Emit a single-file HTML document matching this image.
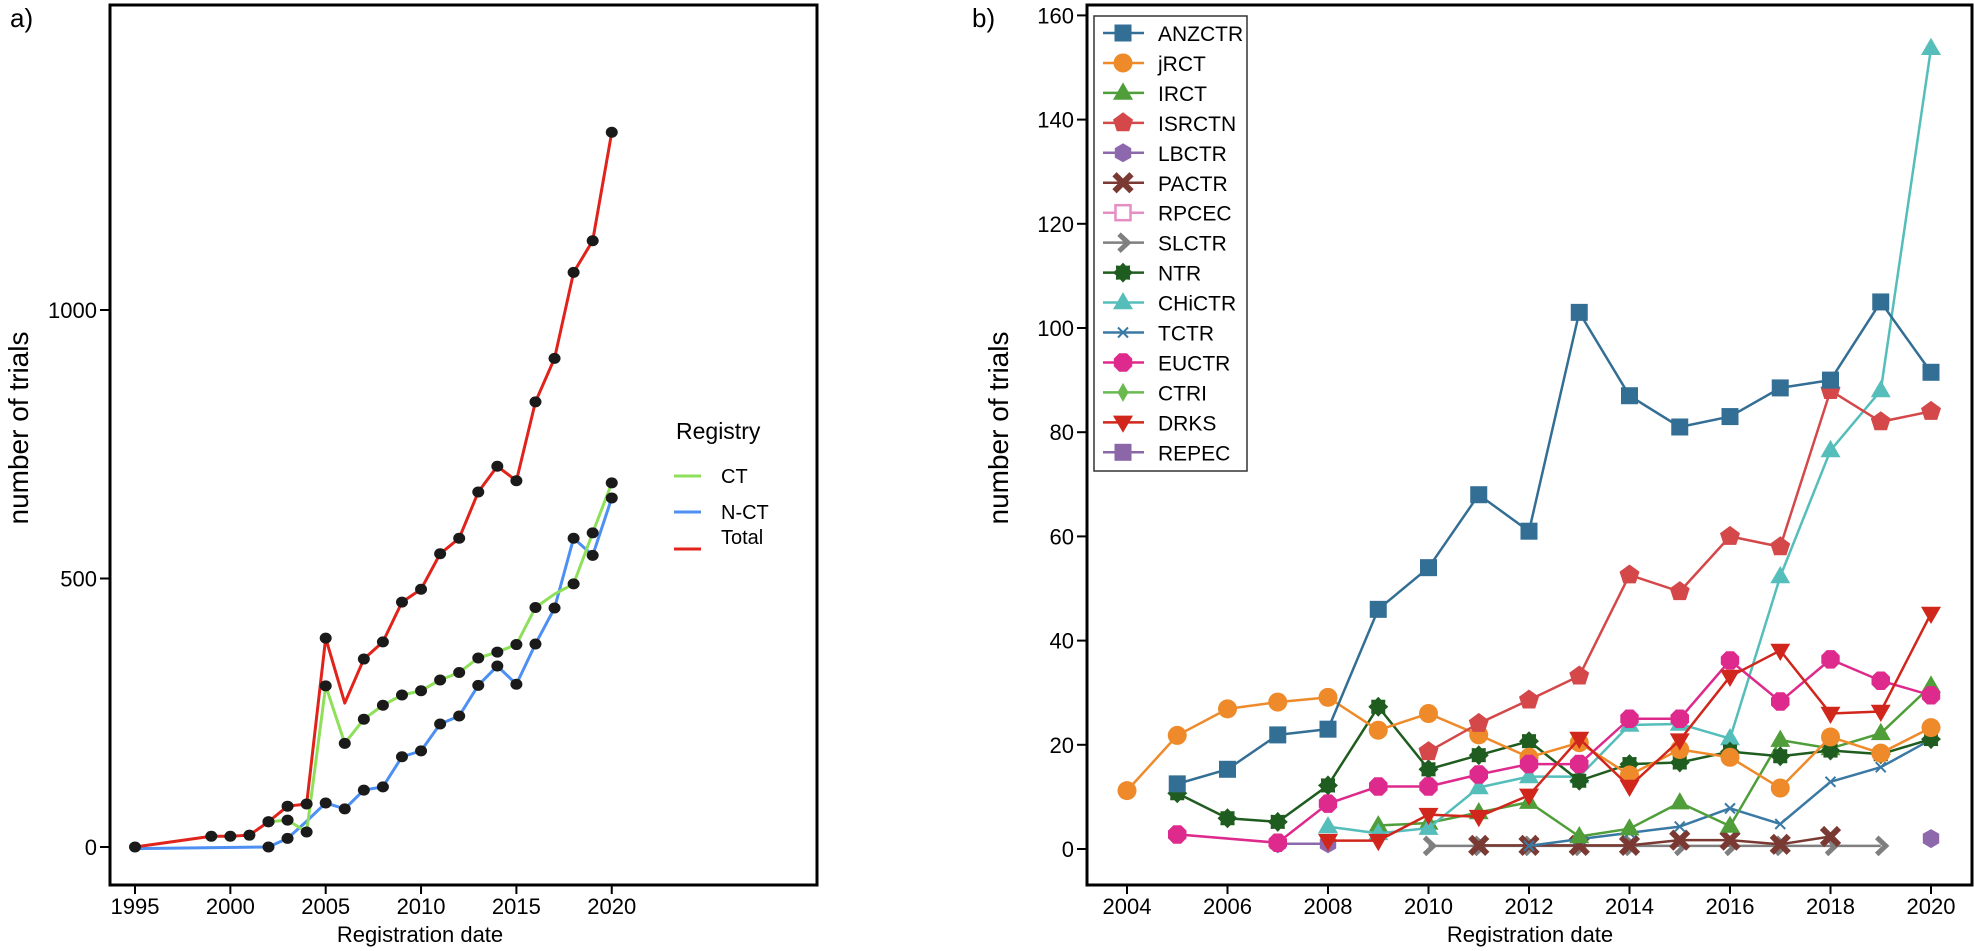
<!DOCTYPE html>
<html><head><meta charset="utf-8">
<style>
html,body{margin:0;padding:0;background:#fff;}
svg{display:block;font-family:"Liberation Sans",Arial,sans-serif;}
</style></head>
<body>
<svg id="fig" width="1975" height="951" viewBox="0 0 1975 951" xmlns="http://www.w3.org/2000/svg">
<text x="10" y="27" font-size="26">a)</text>
<text x="972" y="27" font-size="26">b)</text>
<g id="pa"></g>
<g id="pb"></g>
</svg>
<script>
// ---------- Panel A data ----------
const aYears = [1995,1999,2000,2001,2002,2003,2004,2005,2006,2007,2008,2009,2010,2011,2012,2013,2014,2015,2016,2017,2018,2019,2020];
const aTotal = [0,20,20,22,47,76,80,389,268,350,382,456,480,546,575,661,709,682,829,910,1070,1129,1331];
const aTotalDots = [1,1,1,1,1,1,1,1,0,1,1,1,1,1,1,1,1,1,1,1,1,1,1];
const aCTYears = [2002,2003,2004,2005,2006,2007,2008,2009,2010,2011,2012,2013,2014,2015,2016,2017,2018,2019,2020];
const aCT = [47,50,28,300,193,238,264,283,291,311,325,352,363,377,446,471,490,585,678];
const aCTDots = [1,1,1,1,1,1,1,1,1,1,1,1,1,1,1,0,1,1,1];
const aNCTYears = [1995,2002,2003,2004,2005,2006,2007,2008,2009,2010,2011,2012,2013,2014,2015,2016,2017,2018,2019,2020];
const aNCT = [-3,0,16,48,82,71,106,112,168,179,229,244,301,337,303,378,445,575,543,650];
const aNCTDots = [0,1,1,0,1,1,1,1,1,1,1,1,1,1,1,1,1,1,1,1];
const aXTicks = [1995,2000,2005,2010,2015,2020];
const aYTicks = [0,500,1000];

// ---------- Panel B data ----------
const bXTicks = [2004,2006,2008,2010,2012,2014,2016,2018,2020];
const bYTicks = [0,20,40,60,80,100,120,140,160];
const anzctrY = [2005,2006,2007,2008,2009,2010,2011,2012,2013,2014,2015,2016,2017,2018,2019,2020];
const anzctrV = [12.5,15.3,21.9,23,46,54,68,61,103,87,81,83,88.5,90,105,91.5];
const jrctY = [2004,2005,2006,2007,2008,2009,2010,2011,2012,2013,2014,2015,2016,2017,2018,2019,2020];
const jrctV = [11.2,21.8,26.9,28.2,29.1,22.8,26,21.9,17.6,20.4,14.2,19.1,17.6,11.7,21.5,18.4,23.3];
const irctY = [2009,2010,2011,2012,2013,2014,2015,2016,2017,2018,2019,2020];
const irctV = [4.5,5,7,9,2.4,3.9,8.9,4.4,20.9,19.3,22.2,31.3];
const isrctnY = [2010,2011,2012,2013,2014,2015,2016,2017,2018,2019,2020];
const isrctnV = [18.7,24.1,28.6,33.2,52.6,49.4,60,58,88,82,84];
const lbctrY = [2007,2008];
const lbctrV = [1,1];
const lbctrY2 = [2020];
const lbctrV2 = [2];
const pactrY = [2011,2012,2013,2014,2015,2016,2017,2018];
const pactrV = [0.7,0.7,0.7,0.7,1.7,1.7,0.9,2.4];
const slctrY = [2010,2011,2012,2013,2014,2015,2016,2017,2018,2019];
const slctrV = [0.6,0.6,0.6,0.6,0.6,0.6,0.6,0.6,0.6,0.6];
const ntrY = [2005,2006,2007,2008,2009,2010,2011,2012,2013,2014,2015,2016,2017,2018,2019,2020];
const ntrV = [10.7,5.9,5.2,12.2,27.3,15.3,18,20.7,13.1,16.3,16.6,18.7,17.8,18.9,18.2,21.1];
const chictrY = [2008,2009,2010,2011,2012,2013,2014,2015,2016,2017,2018,2019,2020];
const chictrV = [4.3,3,4,11.8,13.9,13.9,23.8,24,21.2,52.3,76.5,88,153.7];
const tctrY = [2012,2013,2014,2015,2016,2017,2018,2019,2020];
const tctrV = [0.6,1.9,3.1,4.3,7.8,4.8,12.9,15.7,21];
const euctrY = [2005,2007,2008,2009,2010,2011,2012,2013,2014,2015,2016,2017,2018,2019,2020];
const euctrV = [2.8,1.2,8.7,12,12,14.3,16.3,16.3,25,25,36.2,28.3,36.4,32.3,29.5];
const drksY = [2008,2009,2010,2011,2012,2013,2014,2015,2016,2017,2018,2019,2020];
const drksV = [1.6,1.6,6.6,6.2,10.3,21.2,12,20.9,33.1,38.1,26,26.4,45.2];

const NS="http://www.w3.org/2000/svg";
function mk(tag, attrs, parent){const e=document.createElementNS(NS,tag);for(const k in attrs)e.setAttribute(k,attrs[k]);parent.appendChild(e);return e;}

// ---------- Panel A ----------
const pa=document.getElementById('pa');
const aL=110,aR=817,aT=5,aB=885;
function ax(y){return 135+(y-1995)*19.07;}
function ay(v){return 847-0.537*v;}
const aFrame=mk('rect',{x:aL,y:aT,width:aR-aL,height:aB-aT,fill:'none',stroke:'#000','stroke-width':3},pa);


aXTicks.forEach(t=>{
  const l=mk('line',{x1:ax(t),x2:ax(t),y1:aB,y2:aB+9,stroke:'#000','stroke-width':2},pa);
  
  
  const tx=mk('text',{x:ax(t),y:914,'font-size':22,'text-anchor':'middle'},pa);tx.textContent=t;
  
  
});
aYTicks.forEach(t=>{
  const l=mk('line',{x1:aL-10,x2:aL,y1:ay(t),y2:ay(t),stroke:'#000','stroke-width':2},pa);
  
  
  const tx=mk('text',{x:aL-13,y:ay(t)+8,'font-size':22,'text-anchor':'end'},pa);tx.textContent=t;
  
  
});
let t1=mk('text',{x:420,y:942,'font-size':22,'text-anchor':'middle'},pa);t1.textContent='Registration date';


let t2=mk('text',{x:0,y:0,'font-size':28,'text-anchor':'middle',transform:'translate(28,428) rotate(-90)'},pa);t2.textContent='number of trials';


function aSeries(years,vals,dots,color,name){
  const p=mk('polyline',{points:years.map((y,i)=>ax(y)+','+ay(vals[i])).join(' '),fill:'none',stroke:color,'stroke-width':3,'stroke-linejoin':'round'},pa);
  
  
  return p;
}
function aDots(years,vals,dots,name){
  years.forEach((y,i)=>{ if(!dots[i])return;
    const c=mk('ellipse',{cx:ax(y),cy:ay(vals[i]),rx:6,ry:5.5,fill:'#1a1a1a'},pa);
    
    
  });
}
aSeries(aNCTYears,aNCT,aNCTDots,'#4d8ff2','n-ct');
aSeries(aCTYears,aCT,aCTDots,'#8ee05a','ct');
aSeries(aYears,aTotal,aTotalDots,'#e0231b','total');
aDots(aNCTYears,aNCT,aNCTDots,'n-ct');
aDots(aCTYears,aCT,aCTDots,'ct');
aDots(aYears,aTotal,aTotalDots,'total');
// legend a
const lgA=mk('g',{},pa);


let lt=mk('text',{x:676,y:439,'font-size':23},lgA);lt.textContent='Registry';


[['CT','#8ee05a',476],['N-CT','#4d8ff2',512],['Total','#e0231b',549]].forEach(([n,c,y])=>{
  const g=mk('g',{},lgA);
  
  
  mk('line',{x1:674,x2:701,y1:y,y2:y,stroke:c,'stroke-width':3},g);
  const t=mk('text',{x:721,y:y-(n==='Total'?5:-7),'font-size':20},g);t.textContent=n;
});

// ---------- Panel B ----------
const pb=document.getElementById('pb');
const bL=1087,bR=1972,bT=5,bB=885;
function bx(y){return 1127+(y-2004)*50.25;}
function by(v){return 849-5.21*v;}
const bFrame=mk('rect',{x:bL,y:bT,width:bR-bL,height:bB-bT,fill:'none',stroke:'#000','stroke-width':3},pb);


bXTicks.forEach(t=>{
  const l=mk('line',{x1:bx(t),x2:bx(t),y1:bB,y2:bB+9,stroke:'#000','stroke-width':2},pb);
  
  
  const tx=mk('text',{x:bx(t),y:914,'font-size':22,'text-anchor':'middle'},pb);tx.textContent=t;
  
  
});
bYTicks.forEach(t=>{
  const l=mk('line',{x1:bL-10,x2:bL,y1:by(t),y2:by(t),stroke:'#000','stroke-width':2},pb);
  
  
  const tx=mk('text',{x:bL-13,y:by(t)+8,'font-size':22,'text-anchor':'end'},pb);tx.textContent=t;
  
  
});
let t3=mk('text',{x:1530,y:942,'font-size':22,'text-anchor':'middle'},pb);t3.textContent='Registration date';


let t4=mk('text',{x:0,y:0,'font-size':28,'text-anchor':'middle',transform:'translate(1008,428) rotate(-90)'},pb);t4.textContent='number of trials';



function poly(cx,cy,n,r,rot){let p=[];for(let i=0;i<n;i++){const a=rot+i*2*Math.PI/n;p.push((cx+r*Math.cos(a)).toFixed(1)+','+(cy+r*Math.sin(a)).toFixed(1));}return p.join(' ');}
function marker(shape,cx,cy,color,g){
  const S=8.5;
  switch(shape){
    case 's': return mk('rect',{x:cx-S,y:cy-S,width:2*S,height:2*S,fill:color},g);
    case 'o': return mk('circle',{cx:cx,cy:cy,r:S+1,fill:color},g);
    case '^': return mk('polygon',{points:poly(cx,cy+1,3,S+3,-Math.PI/2),fill:color},g);
    case 'v': return mk('polygon',{points:poly(cx,cy-1,3,S+3,Math.PI/2),fill:color},g);
    case 'p': return mk('polygon',{points:poly(cx,cy,5,S+2,-Math.PI/2),fill:color},g);
    case 'h': return mk('polygon',{points:poly(cx,cy,6,S+1,-Math.PI/2),fill:color},g);
    case '8': return mk('polygon',{points:poly(cx,cy,8,S+1.5,Math.PI/8),fill:color},g);
    case '*': {let p=[];for(let i=0;i<16;i++){const a=i*Math.PI/8;const r=i%2?S-1:S+1.5;p.push((cx+r*Math.cos(a)).toFixed(1)+','+(cy+r*Math.sin(a)).toFixed(1));}return mk('polygon',{points:p.join(' '),fill:color},g);}
    case 'X': return mk('path',{d:`M${cx-S} ${cy-S}L${cx+S} ${cy+S}M${cx+S} ${cy-S}L${cx-S} ${cy+S}`,stroke:color,'stroke-width':6},g);
    case 'x': return mk('path',{d:`M${cx-5} ${cy-5}L${cx+5} ${cy+5}M${cx+5} ${cy-5}L${cx-5} ${cy+5}`,stroke:color,'stroke-width':2},g);
    case '>': return mk('path',{d:`M${cx-4} ${cy-S}L${cx+5} ${cy}L${cx-4} ${cy+S}`,stroke:color,'stroke-width':5,fill:'none'},g);
    case 'd': return mk('polygon',{points:`${cx},${cy-S-1} ${cx+5.5},${cy} ${cx},${cy+S+1} ${cx-5.5},${cy}`,fill:color},g);
    case 'S': return mk('rect',{x:cx-S+1,y:cy-S+1,width:2*S-2,height:2*S-2,fill:'#fff',stroke:color,'stroke-width':2.5},g);
  }
}
function bSeries(years,vals,shape,color,name){
  const g=mk('g',{},pb);
  
  
  if(years.length>1){
    const p=mk('polyline',{points:years.map((y,i)=>bx(y)+','+by(vals[i])).join(' '),fill:'none',stroke:color,'stroke-width':2.5,'stroke-linejoin':'round'},g);
    
    
  }
  years.forEach((y,i)=>{
    const m=marker(shape,bx(y),by(vals[i]),color,g);
    
    
  });
}
bSeries(lbctrY,lbctrV,'h','#8e68ad','lbctr');
bSeries(lbctrY2,lbctrV2,'h','#8e68ad','lbctr');
bSeries(slctrY,slctrV,'>','#7f7f7f','slctr');
bSeries(pactrY,pactrV,'X','#7a3a33','pactr');
bSeries(tctrY,tctrV,'x','#3a79a3','tctr');
bSeries(irctY,irctV,'^','#4f9e3a','irct');
bSeries(chictrY,chictrV,'^','#55bdba','chictr');
bSeries(ntrY,ntrV,'*','#1f5c1f','ntr');
bSeries(jrctY,jrctV,'o','#ee8a2a','jrct');
bSeries(euctrY,euctrV,'8','#dd2a8c','euctr');
bSeries(drksY,drksV,'v','#d0261c','drks');
bSeries(isrctnY,isrctnV,'p','#d4484a','isrctn');
bSeries(anzctrY,anzctrV,'s','#336e94','anzctr');

// legend b
const lgB=mk('g',{},pb);


mk('rect',{x:1094,y:16,width:153,height:455,fill:'#fff',stroke:'#333','stroke-width':1.5},lgB);
const legNames=['ANZCTR','jRCT','IRCT','ISRCTN','LBCTR','PACTR','RPCEC','SLCTR','NTR','CHiCTR','TCTR','EUCTR','CTRI','DRKS','REPEC'];
const legShapes=['s','o','^','p','h','X','S','>','*','^','x','8','d','v','s'];
const legColors=['#336e94','#ee8a2a','#4f9e3a','#d4484a','#8e68ad','#7a3a33','#e68ec4','#7f7f7f','#1f5c1f','#55bdba','#3a79a3','#dd2a8c','#6ab94f','#d0261c','#8c67a8'];
legNames.forEach((n,i)=>{
  const y=33+i*29.95;
  const g=mk('g',{},lgB);
  
  
  mk('line',{x1:1103,x2:1144,y1:y,y2:y,stroke:legColors[i],'stroke-width':2.5},g);
  marker(legShapes[i],1123,y,legColors[i],g);
  const t=mk('text',{x:1158,y:y+8,'font-size':21},g);t.textContent=n;
});
</script>
</body></html>
